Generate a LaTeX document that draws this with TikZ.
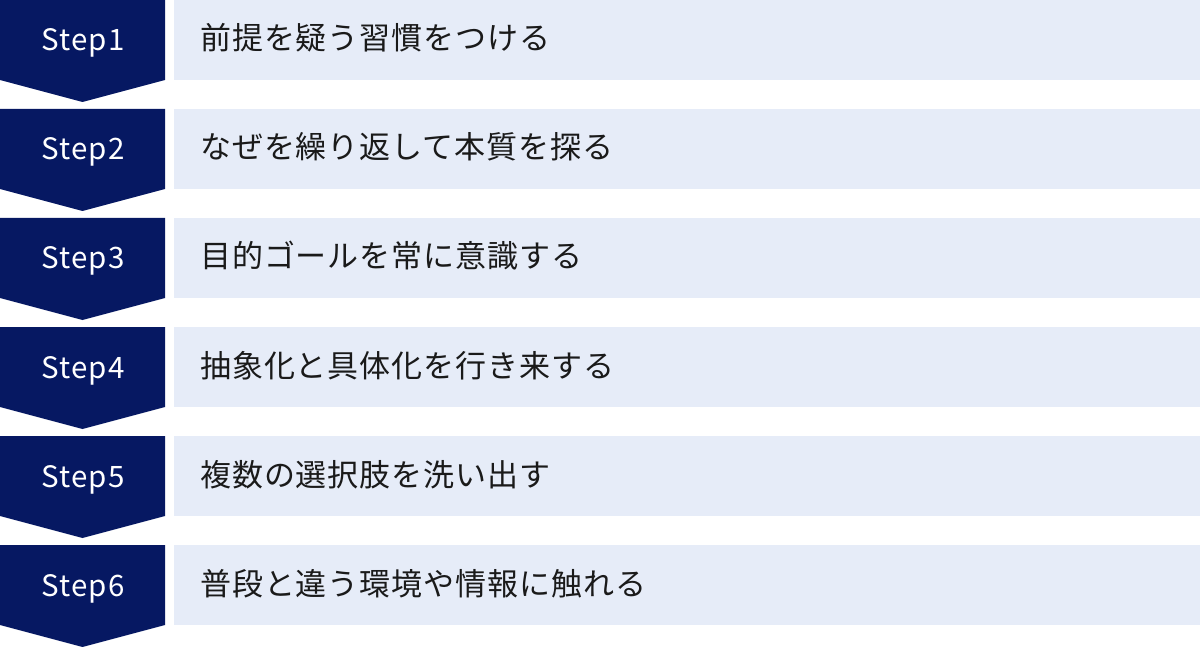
\documentclass[tikz,border=0pt]{standalone}
\usepackage{fontspec}
\newfontfamily\jpfont[LetterSpace=3]{Noto Sans CJK JP}
\newfontfamily\stepfont[LetterSpace=4]{Noto Sans CJK JP}
\definecolor{navy}{RGB}{6,24,98}
\definecolor{barblue}{RGB}{230,236,248}
\definecolor{inktext}{RGB}{26,26,26}
\tikzset{
  chev/.style={fill=navy, draw=none},
  bar/.style={fill=barblue, draw=none},
  steplabel/.style={text=white, font=\stepfont\fontsize{29.5}{31}\selectfont, anchor=base, inner sep=0pt},
  itemlabel/.style={text=inktext, font=\jpfont\fontsize{31}{33}\selectfont, anchor=base west, inner sep=0pt}
}
\begin{document}
\begin{tikzpicture}[x=1pt,y=-1pt]
\useasboundingbox (0,0) rectangle (1200,647);
\foreach \i/\txt in {1/前提を疑う習慣をつける,2/なぜを繰り返して本質を探る,3/目的ゴールを常に意識する,4/抽象化と具体化を行き来する,5/複数の選択肢を洗い出す,6/普段と違う環境や情報に触れる}{
  \pgfmathsetmacro{\t}{(\i-1)*109}
  \fill[chev] (0,\t) -- (165,\t) -- (165,\t+80) -- (82.5,\t+102) -- (0,\t+80) -- cycle;
  \fill[bar] (174,\t) rectangle (1200,\t+80);
  \node[steplabel] (s\i) at (83,\t+51) {Step\i};
  \node[itemlabel] (t\i) at (200,\t+50) {\txt};
}
\end{tikzpicture}
\end{document}
